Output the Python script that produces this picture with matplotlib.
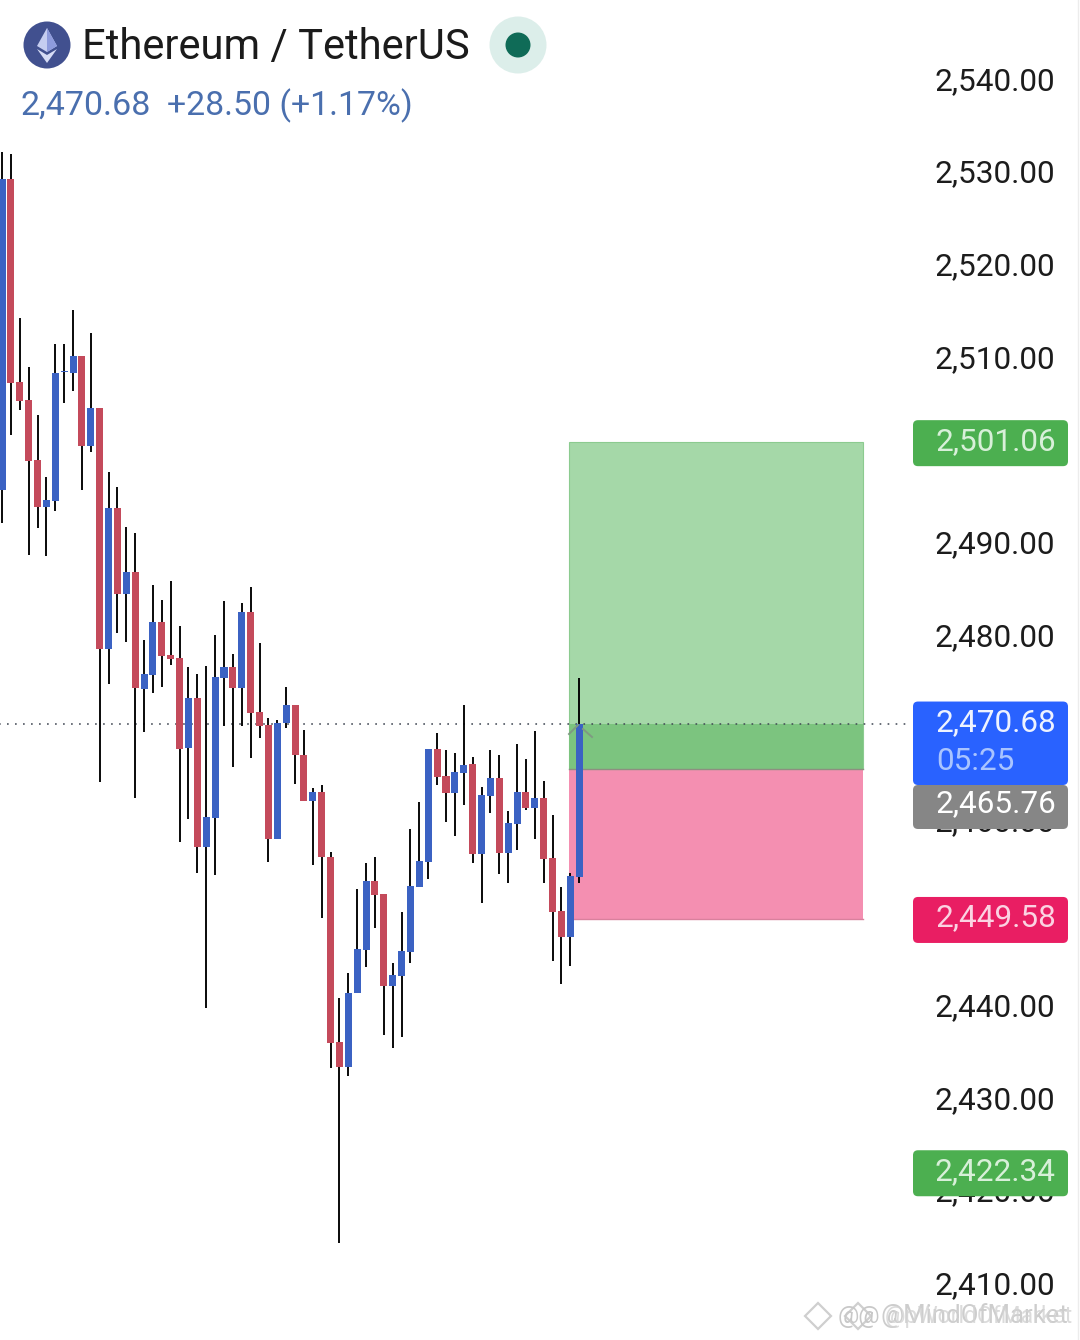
import matplotlib
matplotlib.use("Agg")
import matplotlib.pyplot as plt
from matplotlib.patches import Rectangle, FancyBboxPatch, Circle, Polygon
from matplotlib.transforms import Affine2D

plt.rcParams['font.family'] = ['Roboto', 'DejaVu Sans']

opens = [2495.9,2529.5,2507.6,2505.6,2499.1,2494.1,2494.7,2508.6,2508.5,2510.4,2500.6,2504.7,2478.7,2494.0,2484.7,2487.0,
         2474.4,2475.9,2481.6,2478.1,2477.8,2468.0,2473.4,2457.3,2460.5,2475.6,2476.8,2474.5,2482.7,2471.9,2470.5,2458.2,
         2470.7,2472.7,2467.3,2462.3,2463.3,2456.3,2436.3,2433.6,2441.6,2446.2,2453.7,2452.3,2442.3,2443.4,2446.0,2453.0,
         2455.7,2467.9,2465.0,2463.2,2465.3,2466.3,2456.6,2462.9,2464.8,2456.7,2459.8,2463.3,2461.6,2462.6,2456.2,2450.4,
         2447.6,2454.1]
closes = [2529.5,2507.4,2505.5,2499.0,2494.1,2494.8,2508.5,2508.7,2510.4,2500.6,2504.7,2478.7,2494.0,2484.7,2487.0,2474.5,
          2476.0,2481.6,2478.0,2477.6,2467.9,2473.4,2457.3,2460.6,2475.7,2476.8,2474.5,2482.7,2471.8,2470.4,2458.2,2470.7,
          2472.7,2467.3,2462.3,2463.3,2456.3,2436.2,2433.6,2441.6,2446.3,2453.7,2452.2,2442.3,2443.5,2446.1,2453.1,2455.8,
          2467.9,2464.9,2463.2,2465.4,2466.2,2456.6,2463.0,2464.8,2456.7,2459.9,2463.3,2461.6,2462.6,2456.1,2450.3,2447.6,
          2454.2,2470.68]
highs = [2532.4,2532.2,2514.5,2509.2,2504.0,2497.3,2511.7,2511.7,2515.3,2510.4,2512.8,2504.7,2497.8,2496.2,2491.9,2491.3,
         2479.7,2485.6,2484.0,2486.1,2481.2,2476.8,2476.0,2476.9,2480.2,2483.9,2478.2,2483.7,2485.4,2479.4,2471.3,2471.1,
         2474.6,2472.7,2470.0,2463.7,2464.0,2456.8,2441.0,2443.7,2452.8,2455.6,2456.3,2452.3,2444.8,2450.3,2459.3,2462.2,
         2467.9,2469.7,2467.8,2467.5,2472.7,2467.1,2463.8,2467.8,2467.3,2461.2,2468.5,2466.9,2469.9,2464.5,2460.8,2453.0,
         2454.5,2475.6]
lows = [2492.3,2501.8,2504.5,2488.9,2491.8,2488.8,2493.6,2505.3,2506.6,2495.9,2500.0,2464.4,2475.0,2480.5,2479.5,2462.6,
        2469.8,2474.0,2474.6,2477.0,2457.9,2460.4,2454.5,2440.0,2454.3,2470.4,2466.0,2470.4,2467.0,2469.1,2455.7,2458.2,
        2470.2,2464.1,2462.3,2455.4,2449.7,2433.5,2414.6,2432.6,2441.6,2444.4,2448.6,2437.0,2435.6,2436.8,2444.8,2453.0,
        2453.9,2464.0,2460.0,2458.5,2461.9,2455.6,2451.3,2461.0,2454.4,2453.5,2457.0,2461.3,2458.2,2453.5,2445.0,2442.6,
        2444.5,2453.5]

axis_prices = [2540, 2530, 2520, 2510, 2490, 2480, 2460, 2440, 2430, 2420, 2410]
axis_labels = [f"{p:,.2f}" for p in axis_prices]

last_price = 2470.68
target_price = 2501.06
entry_price = 2465.76
stop_price = 2449.58
alert_price = 2422.34

box_start, box_end = 63.85, 96.95

W, H = 1080, 1340
fig = plt.figure(figsize=(W / 100, H / 100), dpi=100, facecolor='white')
ax = fig.add_axes([0, 0, 1, 1])
ymax, ymin = 2548.80, 2548.80 - 1340 * 0.10797
ax.set_ylim(ymin, ymax)
ax.set_xlim(-2.0 / 8.88, (W - 2.0) / 8.88)
for s in ax.spines.values():
    s.set_visible(False)
ax.set_xticks([])
ax.yaxis.tick_right()
ax.set_yticks(axis_prices)
ax.set_yticklabels(axis_labels, fontsize=22.7, color='#1c1c1c')
ax.tick_params(axis='y', length=0, pad=-(W - 935) * 0.72)
for lab in ax.get_yticklabels():
    lab.set_transform(lab.get_transform() + Affine2D().translate(0, 3))

# risk / reward boxes
ax.add_patch(Rectangle((box_start, entry_price), box_end - box_start, target_price - entry_price,
                       fc='#a5d8a8', ec='#8ccb90', lw=0.8, zorder=2))
ax.add_patch(Rectangle((box_start, entry_price), box_end - box_start, last_price - entry_price,
                       fc='#7cc47f', ec='none', zorder=2.1))
ax.add_patch(Rectangle((box_start, stop_price), box_end - box_start, entry_price - stop_price,
                       fc='#f48fb1', ec='none', zorder=2))
ax.plot([box_start, box_end], [entry_price, entry_price], color='#8d8f80', lw=1.0, zorder=2.2)
ax.plot([box_start, box_end], [stop_price, stop_price], color='#d9809d', lw=1.0, zorder=2.2)

# last price line
ax.plot([-1, 102.2], [last_price, last_price], color='#3f4652', lw=1.1,
        linestyle=(0, (1.1, 4.14)), zorder=2.3)

# candles
xs = list(range(len(opens)))
ax.vlines(xs, lows, highs, color='black', lw=1.35, zorder=3)
for x, o, c in zip(xs, opens, closes):
    col = '#3b62c3' if c >= o else '#c44a5b'
    ax.bar(x, abs(c - o), bottom=min(o, c), width=0.79, color=col, zorder=4, lw=0)

# overlay in pixel space for header and price tags
ov = fig.add_axes([0, 0, 1, 1], zorder=5)
ov.set_xlim(0, W)
ov.set_ylim(H, 0)
ov.axis('off')
ov.patch.set_alpha(0)


def py(p):
    return (ymax - p) / (ymax - ymin) * H


def tag(top, bottom, color):
    ov.add_patch(FancyBboxPatch((917, top + 4), 147, bottom - top - 8,
                                boxstyle='round,pad=4,rounding_size=5', fc=color, ec='none'))


tag(py(target_price) - 22, py(target_price) + 24, '#4caf50')
tag(py(last_price) - 22, 785, '#2962ff')
tag(785, 829, '#868686')
tag(py(stop_price) - 22, py(stop_price) + 24, '#e91e63')
tag(py(alert_price) - 21, py(alert_price) + 25, '#4caf50')

tfs = 22.7
ov.text(1056, py(target_price) - 1, f"{target_price:,.2f}", ha='right', va='center', fontsize=tfs, color='#d8f0d9')
ov.text(1056, py(last_price) - 1, f"{last_price:,.2f}", ha='right', va='center', fontsize=tfs, color='#eef3ff')
ov.text(936, py(last_price) + 38, "05:25", ha='left', va='center', fontsize=tfs, color='#a9c4ff')
ov.text(1056, 804, f"{entry_price:,.2f}", ha='right', va='center', fontsize=tfs, color='white')
ov.text(1056, py(stop_price) - 1, f"{stop_price:,.2f}", ha='right', va='center', fontsize=tfs, color='#fbd3e2')
ov.text(1056, py(alert_price), f"{alert_price:,.2f}", ha='right', va='center', fontsize=tfs, color='#d8f0d9')

# chevron at current bar
ov.plot([569, 578], [734, 725], color='#7f9a82', lw=1.4)
ov.plot([583, 592], [729, 737], color='#7f9a82', lw=1.4)

# header
ov.add_patch(Circle((47, 45), 23.5, fc='#41508f', ec='none'))
ov.add_patch(Polygon([(47, 28), (37, 46), (47, 52), (57, 46)], fc='#c5cdf0', ec='none'))
ov.add_patch(Polygon([(47, 28), (47, 52), (57, 46)], fc='#8e9bdc', ec='none'))
ov.add_patch(Polygon([(37, 49), (47, 55), (57, 49), (47, 63)], fc='#d6dcf5', ec='none'))
ov.text(82, 47, "Ethereum / TetherUS", ha='left', va='center', fontsize=30.05, color='#1b1b1b')
ov.add_patch(Circle((518, 45), 28.5, fc='#dceeea', ec='none'))
ov.add_patch(Circle((518, 45), 12.5, fc='#0f6b57', ec='none'))
ov.text(21, 106, f"{last_price:,.2f}", ha='left', va='center', fontsize=24.5, color='#4a6fae')
ov.text(167, 106, "+28.50 (+1.17%)", ha='left', va='center', fontsize=24.4, color='#4a6fae')

# watermark and right-hand edge
ov.plot([1078, 1078], [0, H], color='#ececec', lw=1)
for cx in (818, 858):
    ov.add_patch(Polygon([(cx - 13, 1316), (cx, 1303), (cx + 13, 1316), (cx, 1329)],
                         fc='none', ec='#cfcfcf', lw=1.6))
ov.text(838, 1316, "@@", ha='left', va='center', fontsize=17, color='#c8c8c8')
ov.text(880, 1316, "@MindOfMarket", ha='left', va='center', fontsize=18.5, color='#cdcdcd')
ov.text(885, 1317, "@pWorldOfMarket", ha='left', va='center', fontsize=16.5, color='#d3d3d3', alpha=0.8)

fig.savefig("out.png", dpi=100, facecolor='white')
